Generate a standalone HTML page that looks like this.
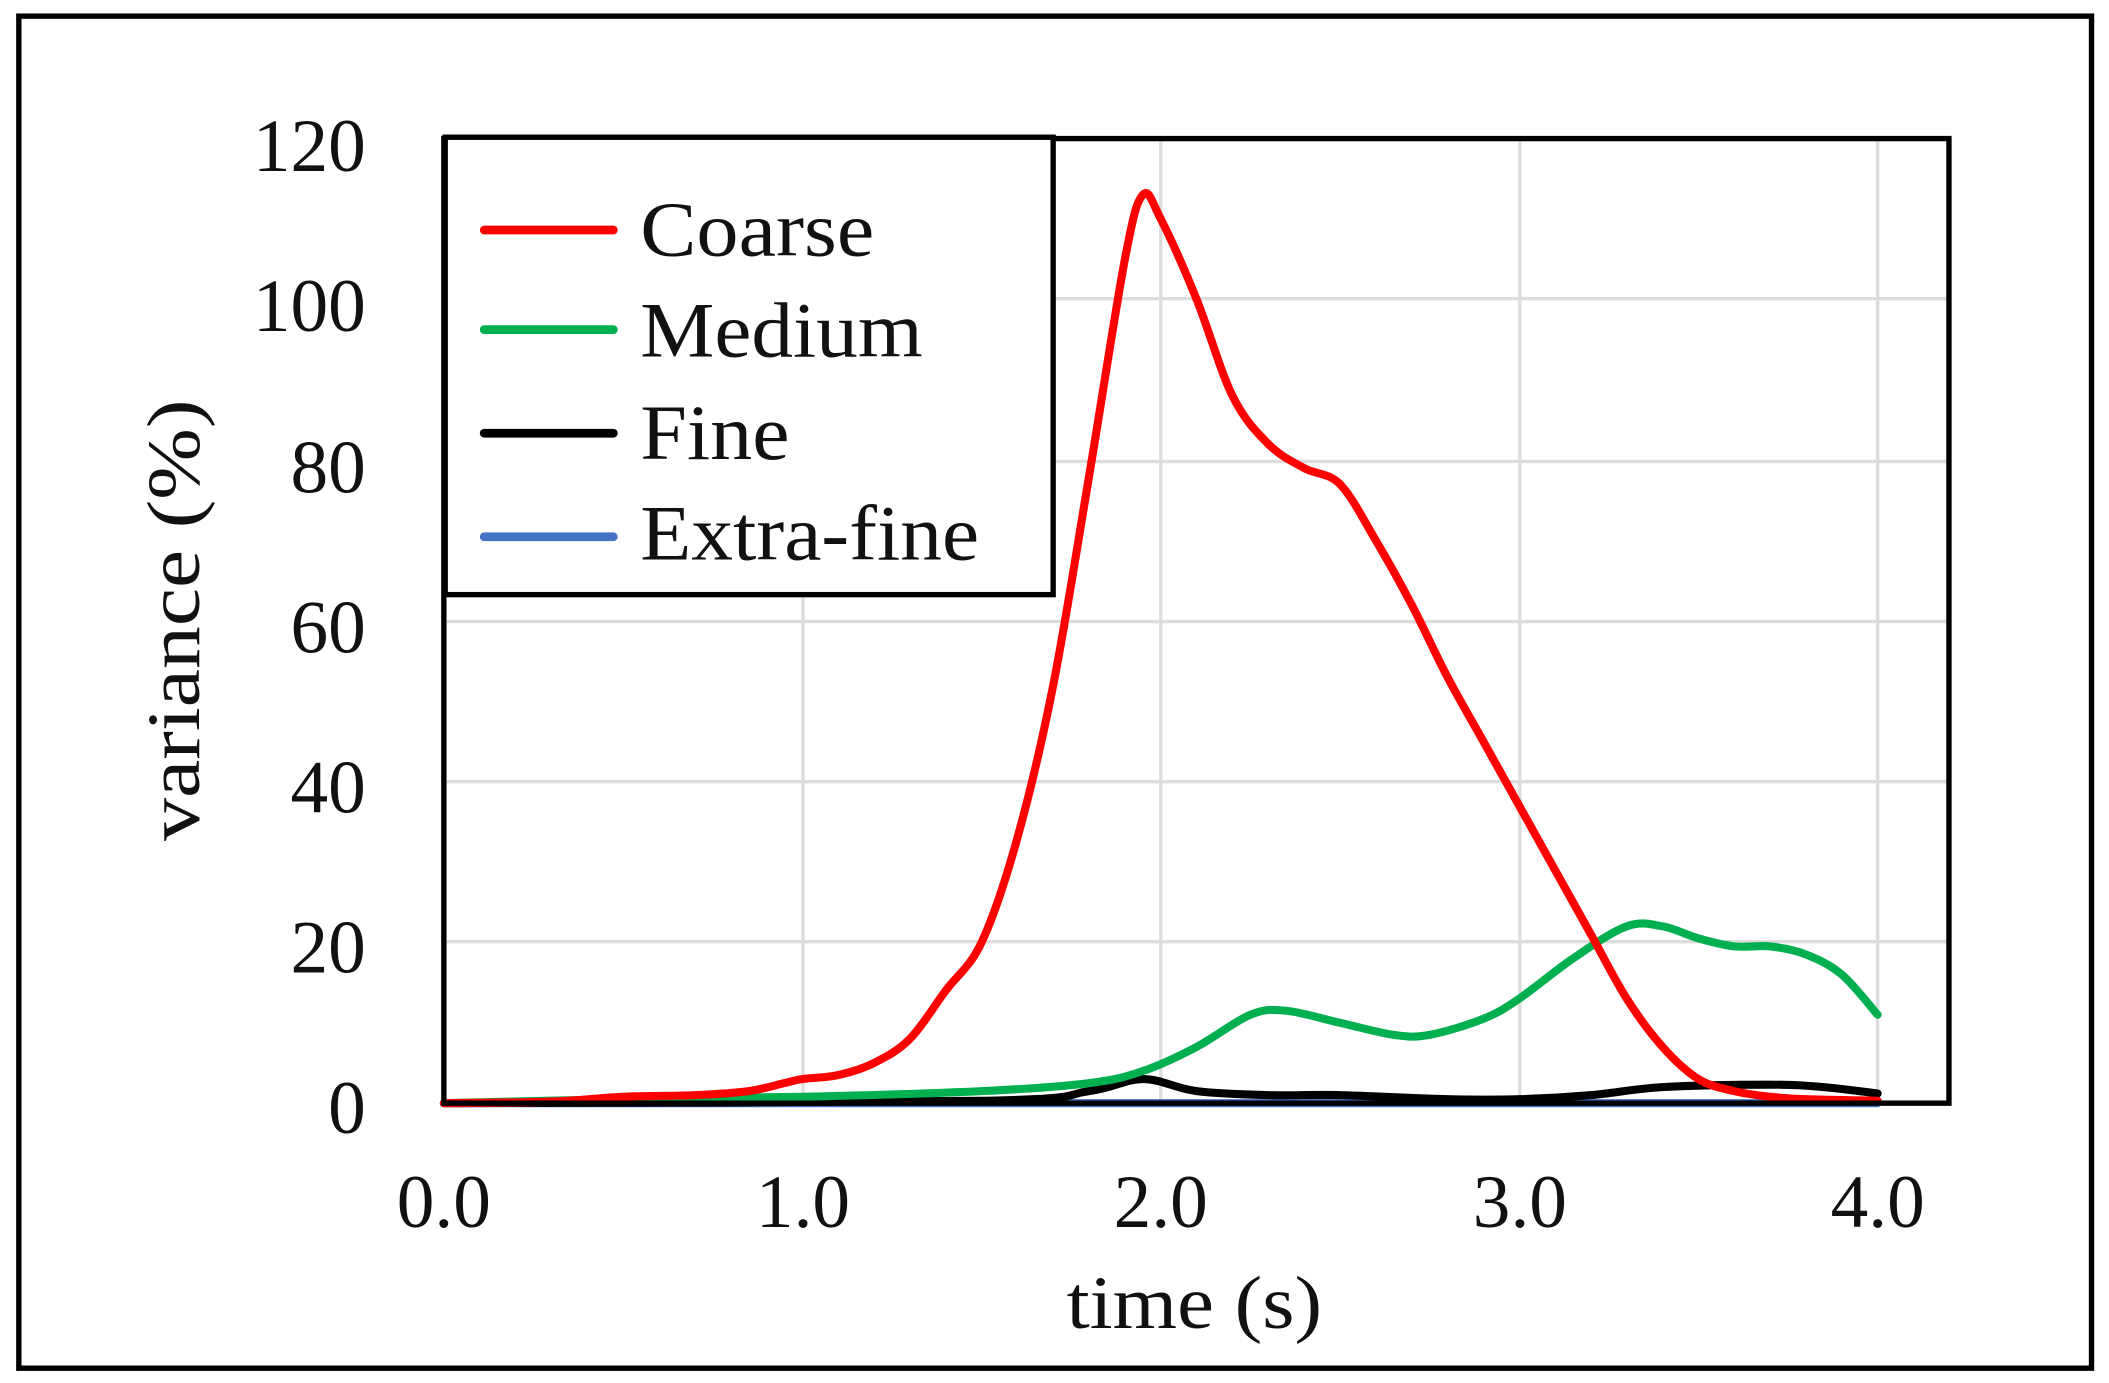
<!DOCTYPE html>
<html><head><meta charset="utf-8"><style>
html,body{margin:0;padding:0;background:#fff;}
svg{display:block;}
text{font-family:"Liberation Serif",serif;fill:#111;}
</style></head><body>
<svg id="s" width="2109" height="1383" viewBox="0 0 1568 1028" preserveAspectRatio="none" xmlns="http://www.w3.org/2000/svg">
<rect x="0" y="0" width="1568" height="1028" fill="#fff"/>
<rect x="14" y="12" width="1541" height="1005" fill="none" stroke="#000" stroke-width="4"/>
<g stroke="#dcdcdc" stroke-width="2.5">
<line x1="597" y1="103" x2="597" y2="820"/><line x1="863" y1="103" x2="863" y2="820"/>
<line x1="1130" y1="103" x2="1130" y2="820"/><line x1="1396" y1="103" x2="1396" y2="820"/>
<line x1="330" y1="700" x2="1449" y2="700"/><line x1="330" y1="581" x2="1449" y2="581"/>
<line x1="330" y1="462" x2="1449" y2="462"/><line x1="330" y1="343" x2="1449" y2="343"/>
<line x1="330" y1="222" x2="1449" y2="222"/>
</g>
<g id="series" fill="none" stroke-width="6" stroke-linejoin="round" stroke-linecap="round"></g>
<rect x="330" y="103" width="1119" height="717" fill="none" stroke="#000" stroke-width="4"/>
<rect x="331" y="102" width="452" height="340" fill="#fff" stroke="#000" stroke-width="4"/>
<g stroke-width="6.5" stroke-linecap="round">
<line x1="360" y1="171" x2="456" y2="171" stroke="#ff0000"/>
<line x1="360" y1="245" x2="456" y2="245" stroke="#00b050"/>
<line x1="360" y1="322" x2="456" y2="322" stroke="#000"/>
<line x1="360" y1="399" x2="456" y2="399" stroke="#4472c4"/>
</g>
<g font-size="58">
<text x="476" y="190" textLength="174" lengthAdjust="spacingAndGlyphs">Coarse</text>
<text x="476" y="265" textLength="210" lengthAdjust="spacingAndGlyphs">Medium</text>
<text x="476" y="341" textLength="111" lengthAdjust="spacingAndGlyphs">Fine</text>
<text x="476" y="416" textLength="252" lengthAdjust="spacingAndGlyphs">Extra-fine</text>
</g>
<g font-size="56" text-anchor="end">
<text x="272" y="127">120</text><text x="272" y="246">100</text><text x="272" y="366">80</text>
<text x="272" y="485">60</text><text x="272" y="604">40</text><text x="272" y="723">20</text>
<text x="272" y="842">0</text>
</g>
<g font-size="56" text-anchor="middle">
<text x="330" y="912">0.0</text><text x="597" y="912">1.0</text><text x="863" y="912">2.0</text>
<text x="1130" y="912">3.0</text><text x="1396" y="912">4.0</text>
<text x="888" y="987" textLength="190" lengthAdjust="spacingAndGlyphs">time (s)</text>
<text transform="translate(148,461) rotate(-90)" textLength="328" lengthAdjust="spacingAndGlyphs">variance (%)</text>
</g>
</svg>
<script>
function px(t,v){return [330+266.5*t,820-5.975*v];}
function path(d){
 var p=d.map(function(a){return px(a[0],a[1]);});
 var s="M"+p[0][0]+","+p[0][1];
 for(var i=0;i<p.length-1;i++){
  var p0=p[i-1]||p[i],p1=p[i],p2=p[i+1],p3=p[i+2]||p2;
  var c1=[p1[0]+(p2[0]-p0[0])/6,p1[1]+(p2[1]-p0[1])/6];
  var c2=[p2[0]-(p3[0]-p1[0])/6,p2[1]-(p3[1]-p1[1])/6];
  s+=" C"+c1+" "+c2+" "+p2;
 }
 return s;
}
var S={
"#4472c4":[[0,0],[4,0]],
"#000000":[[0,0],[1.5,0.3],[1.8,1.5],[1.95,3],[2.1,1.5],[2.3,1],[2.5,1],[2.8,0.5],[3.0,0.5],[3.2,1],[3.4,2],[3.7,2.3],[3.85,2],[4.0,1.2]],
"#00b050":[[0,0],[0.5,0.5],[1.0,0.8],[1.5,1.5],[1.8,2.5],[1.95,4],[2.1,7],[2.25,11],[2.35,11.5],[2.5,10],[2.65,8.5],[2.75,8.5],[2.9,10.5],[3.0,13],[3.15,18],[3.3,22],[3.4,22],[3.5,20.5],[3.6,19.5],[3.7,19.5],[3.8,18.5],[3.9,16],[4.0,11]],
"#ff0000":[[0,0],[0.3,0.2],[0.5,0.8],[0.7,1],[0.85,1.5],[0.95,2.5],[1.0,3],[1.1,3.5],[1.2,5],[1.3,8],[1.4,14],[1.5,20],[1.6,33],[1.7,52],[1.8,78],[1.9,105],[1.95,113],[2.0,110],[2.1,100],[2.2,88],[2.3,82],[2.4,79],[2.5,77],[2.6,70],[2.7,62],[2.8,53],[2.9,45],[3.0,37],[3.1,29],[3.2,21],[3.3,13],[3.4,7],[3.5,3],[3.6,1.5],[3.7,0.8],[3.8,0.5],[4.0,0.3]]
};
var order=["#4472c4","#000000","#00b050","#ff0000"];
var g=document.getElementById("series");
order.forEach(function(c){
 var e=document.createElementNS("http://www.w3.org/2000/svg","path");
 e.setAttribute("d",path(S[c]));e.setAttribute("stroke",c);g.appendChild(e);
});
</script>
</body></html>
